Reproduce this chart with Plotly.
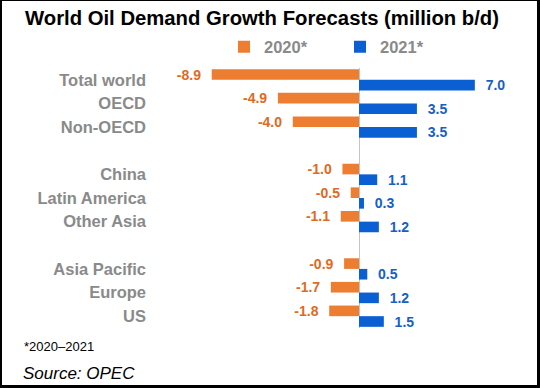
import plotly.graph_objects as go

# ---- data ----
categories = ["Total world", "OECD", "Non-OECD", " ", "China", "Latin America",
              "Other Asia", "  ", "Asia Pacific", "Europe", "US"]
values_2020 = [-8.9, -4.9, -4.0, None, -1.0, -0.5, -1.1, None, -0.9, -1.7, -1.8]
values_2021 = [7.0, 3.5, 3.5, None, 1.1, 0.3, 1.2, None, 0.5, 1.2, 1.5]
series_names = ["2020*", "2021*"]
title_text = "World Oil Demand Growth Forecasts (million b/d)"
footnote_text = "*2020\u20132021"
source_text = "Source: OPEC"

# ---- style ----
W, H = 540, 388
ML, MR, MT, MB = 150, 20, 68, 60
PW, PH = W - ML - MR, H - MT - MB
FONT = "Liberation Sans, Arial, sans-serif"
BAR_ORANGE = "#ED7D31"
BAR_BLUE = "#0A5FD3"
TXT_ORANGE = "#DF6A22"
TXT_BLUE = "#1660C4"
GREY = "#8A8A8A"
NB = "\u00a0"


def px_x(px):
    return (px - ML) / PW


def px_y(py):
    return (MT + PH - py) / PH


def fmt_neg(v):
    return "" if v is None else f"{v:.1f}{NB*2}"


def fmt_pos(v):
    return "" if v is None else f"{NB*2}{v:.1f}"


fig = go.Figure()
fig.add_trace(go.Bar(
    y=categories, x=values_2020, orientation="h", name=series_names[0],
    marker=dict(color=BAR_ORANGE, line=dict(width=0)),
    text=[fmt_neg(v) for v in values_2020], textposition="outside",
    textfont=dict(family=FONT, size=14, color=TXT_ORANGE, weight=700),
    constraintext="none", cliponaxis=False, hoverinfo="skip",
))
fig.add_trace(go.Bar(
    y=categories, x=values_2021, orientation="h", name=series_names[1],
    marker=dict(color=BAR_BLUE, line=dict(width=0)),
    text=[fmt_pos(v) for v in values_2021], textposition="outside",
    textfont=dict(family=FONT, size=14, color=TXT_BLUE, weight=700),
    constraintext="none", cliponaxis=False, hoverinfo="skip",
))

x_lo = -(359 - ML) / 16.55
x_hi = (W - MR - 359) / 16.55

fig.update_layout(
    width=W, height=H,
    margin=dict(l=ML, r=MR, t=MT, b=MB),
    paper_bgcolor="white", plot_bgcolor="white",
    barmode="group", bargap=0.1, bargroupgap=0.0,
    font=dict(family=FONT),
    title=dict(text=title_text, x=262 / W, xanchor="center", xref="container",
               y=1 - 18 / H, yanchor="middle", yref="container",
               font=dict(family=FONT, size=20.3, color="black", weight=700)),
    showlegend=True,
    legend=dict(orientation="h", x=px_x(224), xanchor="left",
                y=px_y(47), yanchor="middle",
                font=dict(family=FONT, size=16.5, color=GREY, weight=700),
                entrywidth=71, bgcolor="rgba(0,0,0,0)", traceorder="normal"),
    xaxis=dict(range=[x_lo, x_hi], showgrid=False, showticklabels=False,
               zeroline=True, zerolinecolor="#C4C4C4", zerolinewidth=1,
               showline=False, ticks=""),
    yaxis=dict(type="category", categoryorder="array", categoryarray=categories,
               autorange="reversed", showgrid=False, showline=False, ticks="",
               ticklabelstandoff=3,
               tickfont=dict(family=FONT, size=16.5, color=GREY, weight=700)),
    annotations=[
        dict(text=footnote_text, xref="paper", yref="paper", x=px_x(22), y=px_y(346),
             xanchor="left", yanchor="middle", showarrow=False,
             font=dict(family=FONT, size=13, color="black")),
        dict(text=f"<i>{source_text}</i>", xref="paper", yref="paper", x=px_x(21), y=px_y(373),
             xanchor="left", yanchor="middle", showarrow=False,
             font=dict(family=FONT, size=17, color="black")),
    ],
    shapes=[
        dict(type="rect", xref="paper", yref="paper",
             x0=px_x(0.5), x1=px_x(538.5), y0=px_y(386.5), y1=px_y(-0.5),
             line=dict(color="black", width=3), fillcolor="rgba(0,0,0,0)", layer="above"),
    ],
)

fig.write_html("out.html", config={"displayModeBar": False},
               post_script="document.body.style.margin='0';")
